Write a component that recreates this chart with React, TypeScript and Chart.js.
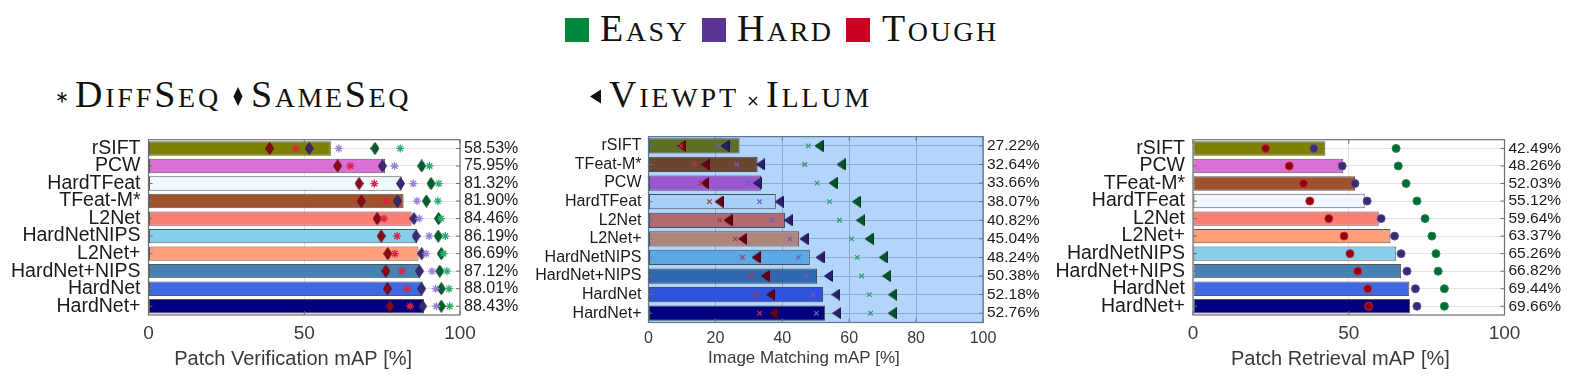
import React, { useEffect, useRef } from "react";
import { Chart, registerables } from "chart.js";
Chart.register(...registerables);

Chart.defaults.font.family = "'Liberation Sans', Arial, Helvetica, sans-serif";

// ---------------- Patch Verification ----------------
const pvMethods = ["rSIFT", "PCW", "HardTFeat", "TFeat-M*", "L2Net", "HardNetNIPS", "L2Net+", "HardNet+NIPS", "HardNet", "HardNet+"];
const pvMean = [58.53, 75.95, 81.32, 81.9, 84.46, 86.19, 86.69, 87.12, 88.01, 88.43];
const pvEasySame = [72.7, 87.7, 90.7, 89.2, 93.1, 93.0, 94.0, 93.5, 94.0, 94.0];
const pvEasyDiff = [80.8, 90.2, 93.2, 92.9, 93.9, 95.3, 94.7, 95.8, 96.5, 96.7];
const pvHardSame = [51.6, 75.1, 80.9, 79.9, 85.2, 85.9, 87.7, 87.0, 87.7, 88.0];
const pvHardDiff = [61.1, 79.0, 85.0, 86.2, 86.9, 90.1, 89.1, 91.0, 92.2, 92.4];
const pvToughSame = [38.9, 60.7, 67.6, 68.3, 73.4, 74.7, 76.8, 76.2, 76.7, 77.5];
const pvToughDiff = [47.3, 64.8, 72.5, 76.3, 75.6, 79.8, 79.1, 81.3, 83.0, 84.0];
const pvColors = ["#808000", "#da70d6", "#f0f8ff", "#a0522d", "#fa8072", "#87ceeb", "#ffa07a", "#4682b4", "#4169e1", "#000080"];

// ---------------- Image Matching ----------------
const imMethods = ["rSIFT", "TFeat-M*", "PCW", "HardTFeat", "L2Net", "L2Net+", "HardNetNIPS", "HardNet+NIPS", "HardNet", "HardNet+"];
const imMean = [27.22, 32.64, 33.66, 38.07, 40.82, 45.04, 48.24, 50.38, 52.18, 52.76];
const imEasyView = [51.0, 57.6, 55.2, 62.2, 63.4, 66.0, 70.2, 71.2, 73.0, 72.9];
const imEasyIllum = [47.8, 46.7, 50.4, 54.1, 57.1, 60.7, 62.4, 63.7, 66.0, 66.4];
const imHardView = [22.9, 33.5, 32.6, 39.1, 41.8, 46.5, 51.3, 53.8, 56.0, 56.3];
const imHardIllum = [21.0, 26.4, 29.9, 33.2, 36.9, 42.3, 44.8, 47.2, 49.2, 50.2];
const imToughView = [10.0, 17.1, 16.8, 21.1, 23.8, 28.2, 32.2, 35.0, 36.6, 37.3];
const imToughIllum = [9.7, 13.9, 15.7, 18.2, 21.3, 25.9, 28.1, 30.7, 32.1, 33.2];
const imColors = ["#5e6e22", "#6b4530", "#9a55d0", "#a9d1f7", "#b06a72", "#b0867c", "#5aa9e6", "#3068ad", "#2e52db", "#000080"];

// ---------------- Patch Retrieval ----------------
const prMethods = ["rSIFT", "PCW", "TFeat-M*", "HardTFeat", "L2Net", "L2Net+", "HardNetNIPS", "HardNet+NIPS", "HardNet", "HardNet+"];
const prMean = [42.49, 48.26, 52.03, 55.12, 59.64, 63.37, 65.26, 66.82, 69.44, 69.66];
const prEasy = [65.2, 65.9, 68.4, 71.9, 74.5, 76.7, 78.0, 78.7, 80.7, 80.7];
const prHard = [38.8, 47.9, 52.0, 55.9, 60.4, 64.7, 66.8, 68.7, 71.4, 71.9];
const prTough = [23.3, 30.9, 35.5, 37.5, 43.6, 48.5, 50.4, 52.9, 56.1, 56.4];
const prColors = ["#808000", "#da70d6", "#a0522d", "#f0f8ff", "#fa8072", "#ffa07a", "#87ceeb", "#4682b4", "#4169e1", "#000080"];

const xTicksPatch = [0, 50, 100];
const xTicksImage = [0, 20, 40, 60, 80, 100];

const pct = (a: number[]) => a.map((v) => v.toFixed(2) + "%");

function diamondStyle(fill: string, stroke: string, w: number, h: number) {
  const c = document.createElement("canvas");
  c.width = w;
  c.height = h;
  const g = c.getContext("2d")!;
  g.beginPath();
  g.moveTo(w / 2, 0.5);
  g.lineTo(w - 0.5, h / 2);
  g.lineTo(w / 2, h - 0.5);
  g.lineTo(0.5, h / 2);
  g.closePath();
  g.fillStyle = fill;
  g.fill();
  g.strokeStyle = stroke;
  g.lineWidth = 1;
  g.stroke();
  return c;
}

function leftTriStyle(fill: string, stroke: string, w: number, h: number) {
  const c = document.createElement("canvas");
  c.width = w;
  c.height = h;
  const g = c.getContext("2d")!;
  g.beginPath();
  g.moveTo(0.5, h / 2);
  g.lineTo(w - 0.5, 0.5);
  g.lineTo(w - 0.5, h - 0.5);
  g.closePath();
  g.fillStyle = fill;
  g.fill();
  g.strokeStyle = stroke;
  g.lineWidth = 1;
  g.stroke();
  return c;
}

const framePlugin = {
  id: "panelFrame",
  beforeDraw(chart: any, _a: any, opts: any) {
    if (opts && opts.bg) {
      const { ctx, chartArea: a } = chart;
      ctx.save();
      ctx.fillStyle = opts.bg;
      ctx.fillRect(a.left, a.top, a.right - a.left, a.bottom - a.top);
      ctx.restore();
    }
  },
  afterDatasetsDraw(chart: any, _a: any, opts: any) {
    const { ctx, chartArea: a, scales } = chart;
    const col = (opts && opts.border) || "#707070";
    ctx.save();
    ctx.strokeStyle = col;
    ctx.lineWidth = 1.2;
    ctx.strokeRect(a.left, a.top, a.right - a.left, a.bottom - a.top);
    // MATLAB-style inward tick marks
    ctx.lineWidth = 1;
    ctx.beginPath();
    const tl = 4;
    scales.x.ticks.forEach((t: any) => {
      const px = scales.x.getPixelForValue(t.value);
      ctx.moveTo(px, a.bottom);
      ctx.lineTo(px, a.bottom - tl);
      ctx.moveTo(px, a.top);
      ctx.lineTo(px, a.top + tl);
    });
    scales.y.ticks.forEach((_t: any, i: number) => {
      const py = scales.y.getPixelForTick(i);
      ctx.moveTo(a.left, py);
      ctx.lineTo(a.left + tl, py);
      ctx.moveTo(a.right, py);
      ctx.lineTo(a.right - tl, py);
    });
    ctx.stroke();
    ctx.restore();
  },
};

type Marker = { data: number[]; style: any; radius: number; fill: string; stroke: string; bw: number };

type PanelCfg = {
  left: number;
  top: number;
  w: number;
  h: number;
  methods: string[];
  mean: number[];
  colors: string[];
  markers: () => Marker[];
  xTicks: number[];
  title: string;
  titleSize: number;
  titlePad: number;
  tickSize: number;
  tickPad: number;
  catSize: number;
  catPad: number;
  pctSize: number;
  yW: number;
  y2W: number;
  xH: number;
  padTop: number;
  grid: string;
  frame: string;
  bg?: string;
};

function buildConfig(p: PanelCfg): any {
  const markers = p.markers();
  return {
    type: "bar",
    data: {
      labels: p.methods,
      datasets: [
        ...markers.map((m, i) => ({
          type: "line",
          label: "m" + i,
          data: m.data,
          showLine: false,
          pointStyle: m.style,
          pointRadius: m.radius,
          pointBackgroundColor: m.fill,
          pointBorderColor: m.stroke,
          pointBorderWidth: m.bw,
          order: 0,
        })),
        {
          type: "bar",
          label: "mean",
          data: p.mean,
          backgroundColor: p.colors,
          borderColor: "rgba(45,45,45,0.8)",
          borderWidth: 1,
          borderSkipped: false,
          barPercentage: 0.82,
          categoryPercentage: 1,
          order: 1,
        },
      ],
    },
    options: {
      indexAxis: "y",
      responsive: false,
      animation: false,
      devicePixelRatio: 1,
      events: [],
      layout: { padding: { top: p.padTop, left: 0, right: 0, bottom: 0 } },
      plugins: {
        legend: { display: false },
        tooltip: { enabled: false },
        panelFrame: { bg: p.bg, border: p.frame },
      },
      scales: {
        x: {
          type: "linear",
          min: 0,
          max: 100,
          afterBuildTicks: (s: any) => {
            s.ticks = p.xTicks.map((v) => ({ value: v }));
          },
          ticks: { color: "#3a3a3a", font: { size: p.tickSize }, padding: p.tickPad },
          grid: { color: p.grid, drawTicks: false, lineWidth: 1 },
          border: { display: false },
          title: {
            display: true,
            text: p.title,
            color: "#3a3a3a",
            font: { size: p.titleSize },
            padding: { top: 0, bottom: p.titlePad },
          },
          afterFit: (s: any) => {
            s.height = p.xH;
          },
        },
        y: {
          type: "category",
          offset: true,
          grid: { offset: false, color: p.grid, drawTicks: false },
          border: { display: false },
          ticks: { color: "#1a1a1a", font: { size: p.catSize }, padding: p.catPad, autoSkip: false },
          afterFit: (s: any) => {
            s.width = p.yW;
          },
        },
        y2: {
          type: "category",
          position: "right",
          labels: pct(p.mean),
          offset: true,
          grid: { display: false, drawTicks: false },
          border: { display: false },
          ticks: { color: "#1a1a1a", font: { size: p.pctSize }, padding: 4, autoSkip: false },
          afterFit: (s: any) => {
            s.width = p.y2W;
          },
        },
      },
    },
    plugins: [framePlugin],
  };
}

const panels: PanelCfg[] = [
  {
    left: 0, top: 120, w: 545, h: 261,
    methods: pvMethods, mean: pvMean, colors: pvColors,
    markers: () => [
      { data: pvEasyDiff, style: "star", radius: 4, fill: "#2eaa6a", stroke: "#2eaa6a", bw: 1.3 },
      { data: pvHardDiff, style: "star", radius: 4, fill: "#9b7fd4", stroke: "#9b7fd4", bw: 1.3 },
      { data: pvToughDiff, style: "star", radius: 4, fill: "#dc2347", stroke: "#dc2347", bw: 1.3 },
      { data: pvEasySame, style: diamondStyle("#005f2e", "#003f1e", 9, 13), radius: 5, fill: "#005f2e", stroke: "#003f1e", bw: 1 },
      { data: pvHardSame, style: diamondStyle("#3a2b70", "#281d52", 9, 13), radius: 5, fill: "#3a2b70", stroke: "#281d52", bw: 1 },
      { data: pvToughSame, style: diamondStyle("#8b0a1a", "#5e0610", 9, 13), radius: 5, fill: "#8b0a1a", stroke: "#5e0610", bw: 1 },
    ],
    xTicks: xTicksPatch,
    title: "Patch Verification mAP [%]    ", titleSize: 20, titlePad: 10,
    tickSize: 19, tickPad: 7.5, catSize: 19.5, catPad: 8, pctSize: 16,
    yW: 148.5, y2W: 85, xH: 66, padTop: 17.5,
    grid: "#e4e4e4", frame: "#6e6e6e",
  },
  {
    left: 525, top: 120, w: 535, h: 261,
    methods: imMethods, mean: imMean, colors: imColors,
    markers: () => [
      { data: imEasyIllum, style: "crossRot", radius: 3.2, fill: "#2d9a6a", stroke: "#2d9a6a", bw: 1.2 },
      { data: imHardIllum, style: "crossRot", radius: 3.2, fill: "#6b5bc6", stroke: "#6b5bc6", bw: 1.2 },
      { data: imToughIllum, style: "crossRot", radius: 3.2, fill: "#b8324c", stroke: "#b8324c", bw: 1.2 },
      { data: imEasyView, style: leftTriStyle("#00562a", "#003a1c", 9, 12), radius: 5, fill: "#00562a", stroke: "#003a1c", bw: 1 },
      { data: imHardView, style: leftTriStyle("#2c1d6e", "#1e1450", 9, 12), radius: 5, fill: "#2c1d6e", stroke: "#1e1450", bw: 1 },
      { data: imToughView, style: leftTriStyle("#6a0012", "#4a000c", 9, 12), radius: 5, fill: "#6a0012", stroke: "#4a000c", bw: 1 },
    ],
    xTicks: xTicksImage,
    title: "Image Matching mAP [%]     ", titleSize: 17, titlePad: 12,
    tickSize: 16, tickPad: 6, catSize: 16, catPad: 7, pctSize: 15.5,
    yW: 123.5, y2W: 77, xH: 58.5, padTop: 16.5,
    grid: "#8eaacb", frame: "#5f7590", bg: "#b3d5fb",
  },
  {
    left: 1040, top: 120, w: 541, h: 261,
    methods: prMethods, mean: prMean, colors: prColors,
    markers: () => [
      { data: prEasy, style: "circle", radius: 4, fill: "#006b35", stroke: "#1e8c4d", bw: 1 },
      { data: prHard, style: "circle", radius: 4, fill: "#3b2b6e", stroke: "#5e4ea0", bw: 1 },
      { data: prTough, style: "circle", radius: 4, fill: "#8c0012", stroke: "#d0242f", bw: 1 },
    ],
    xTicks: xTicksPatch,
    title: "Patch Retrieval mAP [%]   ", titleSize: 20, titlePad: 10,
    tickSize: 19, tickPad: 7.5, catSize: 19.5, catPad: 8, pctSize: 15.5,
    yW: 153, y2W: 76.5, xH: 66, padTop: 17.5,
    grid: "#e4e4e4", frame: "#6e6e6e",
  },
];

function Panel({ cfg }: { cfg: PanelCfg }) {
  const ref = useRef<HTMLCanvasElement>(null);
  useEffect(() => {
    const chart = new Chart(ref.current as HTMLCanvasElement, buildConfig(cfg));
    return () => chart.destroy();
  }, [cfg]);
  return (
    <canvas
      ref={ref}
      width={cfg.w}
      height={cfg.h}
      style={{ position: "absolute", left: cfg.left, top: cfg.top, width: cfg.w, height: cfg.h }}
    />
  );
}

const SERIF = "'Liberation Serif', 'Times New Roman', Times, serif";
const BIG = 38;
const SMALL = 28;

function SmallCaps({ text, left, baseline, spacing }: { text: string; left: number; baseline: number; spacing: number }) {
  const parts: React.ReactNode[] = [];
  let i = 0;
  while (i < text.length) {
    const ch = text[i];
    const isUpper = ch === ch.toUpperCase();
    let j = i;
    while (j < text.length && (text[j] === text[j].toUpperCase()) === isUpper) j++;
    parts.push(
      <span key={i} style={{ fontSize: isUpper ? BIG : SMALL }}>
        {text.slice(i, j).toUpperCase()}
      </span>
    );
    i = j;
  }
  const top = baseline - (0.891 - 0.0535) * BIG;
  return (
    <div
      style={{
        position: "absolute",
        left,
        top,
        fontFamily: SERIF,
        fontSize: BIG,
        lineHeight: BIG + "px",
        letterSpacing: spacing,
        whiteSpace: "nowrap",
        color: "#111",
      }}
    >
      {parts}
    </div>
  );
}

const legendTop = [
  { label: "Easy", color: "#00873e", sq: 565, tx: 600 },
  { label: "Hard", color: "#5c3494", sq: 702, tx: 737 },
  { label: "Tough", color: "#cc0022", sq: 846, tx: 882 },
];

export default function App() {
  return (
    <div style={{ position: "absolute", left: 0, top: 0, width: 1581, height: 381, background: "#fff", overflow: "hidden" }}>
      {legendTop.map((l) => (
        <React.Fragment key={l.label}>
          <div style={{ position: "absolute", left: l.sq, top: 18, width: 24, height: 24, background: l.color }} />
          <SmallCaps text={l.label} left={l.tx} baseline={41} spacing={2.5} />
        </React.Fragment>
      ))}
      <svg style={{ position: "absolute", left: 0, top: 0 }} width={1581} height={120}>
        <g stroke="#111" strokeWidth={1.4}>
          <line x1={62} y1={92} x2={62} y2={102.5} />
          <line x1={57.5} y1={94.6} x2={66.5} y2={99.9} />
          <line x1={57.5} y1={99.9} x2={66.5} y2={94.6} />
        </g>
        <polygon points="238,87 242.5,96.5 238,106 233.5,96.5" fill="#111" />
        <polygon points="590,96.5 601,89.5 601,103.5" fill="#111" />
        <g stroke="#111" strokeWidth={1.4}>
          <line x1={749} y1={97} x2={757} y2={105} />
          <line x1={749} y1={105} x2={757} y2={97} />
        </g>
      </svg>
      <SmallCaps text="DiffSeq" left={75} baseline={106.5} spacing={2.8} />
      <SmallCaps text="SameSeq" left={251} baseline={106.5} spacing={2.6} />
      <SmallCaps text="Viewpt" left={609} baseline={106.5} spacing={2.8} />
      <SmallCaps text="Illum" left={766} baseline={106.5} spacing={2.8} />
      {panels.map((p, i) => (
        <Panel key={i} cfg={p} />
      ))}
    </div>
  );
}
